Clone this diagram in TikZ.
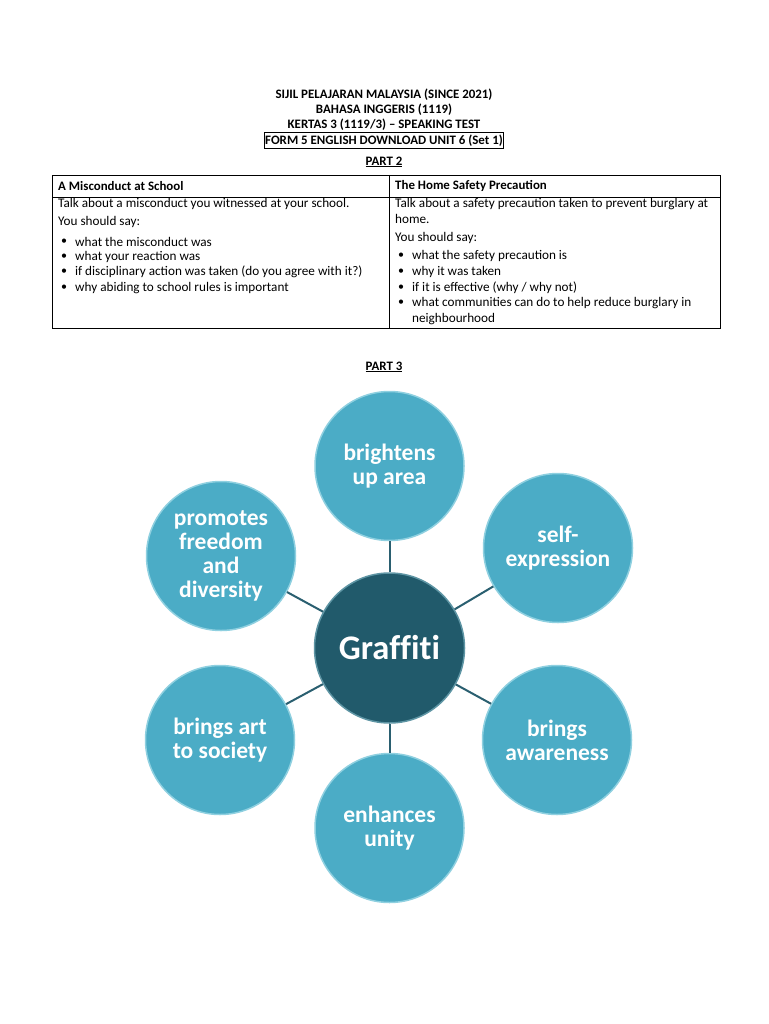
\documentclass[tikz,border=0pt]{standalone}
\usepackage{fontspec}
\setmainfont{Carlito}
\begin{document}
\begin{tikzpicture}[x=1pt,y=-1pt,
  hdr/.style={font=\fontsize{12.9}{14}\selectfont\bfseries, inner sep=0pt},
  body/.style={font=\fontsize{13.2}{15}\selectfont, inner sep=0pt, anchor=west},
  bul/.style={font=\fontsize{12}{15}\selectfont, inner sep=0pt},
  outer/.style={circle, minimum size=149pt, inner sep=0pt, align=center,
     fill=cyanmain, draw=cyanedge, line width=1.5pt, text=white,
     font=\fontsize{23.5}{24}\selectfont\bfseries},
  center/.style={circle, minimum size=150pt, inner sep=0pt, align=center,
     fill=tealdark, draw=tealedge, line width=1.5pt, text=white,
     font=\fontsize{34.5}{38}\selectfont\bfseries\addfontfeatures{Ligatures=NoCommon}},
  conn/.style={draw=linecol, line width=2pt}]
\definecolor{cyanmain}{HTML}{4BACC6}
\definecolor{cyanedge}{HTML}{8FD0E0}
\definecolor{tealdark}{HTML}{215A6B}
\definecolor{tealedge}{HTML}{5E95A4}
\definecolor{linecol}{HTML}{2A5F70}
\useasboundingbox (0,0) rectangle (768,1024);
\fill[white] (0,0) rectangle (768,1024);
% header
\node[hdr] (h1) at (384,95) {SIJIL PELAJARAN MALAYSIA (SINCE 2021)};
\node[hdr] (h2) at (384,110) {BAHASA INGGERIS (1119)};
\node[hdr] (h3) at (384,125) {KERTAS 3 (1119/3) – SPEAKING TEST};
\node[hdr, draw, line width=0.8pt, inner xsep=1pt, inner ysep=2pt] (h4) at (384,140.5) {FORM 5 ENGLISH DOWNLOAD UNIT 6 (Set 1)};
\node[hdr] (p2) at (384,162) {\underline{PART 2}};
% table
\draw[line width=0.8pt] (52,175) rectangle (720,328);
\draw[line width=0.8pt] (52,197) -- (720,197);
\draw[line width=0.8pt] (389,175) -- (389,328);
\node[hdr, anchor=west] (t1) at (58,186) {A Misconduct at School};
\node[hdr, anchor=west] (t2) at (395,186) {The Home Safety Precaution};
\node[body] (l1) at (58,204) {Talk about a misconduct you witnessed at your school.};
\node[body] (l2) at (58,222) {You should say:};
\node[bul] (lb1) at (64,242) {•};
\node[body] (lt1) at (75,242) {what the misconduct was};
\node[bul] (lb2) at (64,257) {•};
\node[body] (lt2) at (75,257) {what your reaction was};
\node[bul] (lb3) at (64,272) {•};
\node[body] (lt3) at (75,272) {if disciplinary action was taken (do you agree with it?)};
\node[bul] (lb4) at (64,288) {•};
\node[body] (lt4) at (75,288) {why abiding to school rules is important};
\node[body] (r1) at (395,204) {Talk about a safety precaution taken to prevent burglary at};
\node[body] (r1b) at (395,219) {home.};
\node[body] (r2) at (395,238) {You should say:};
\node[bul] (rb1) at (401,256) {•};
\node[body] (rt1) at (412,256) {what the safety precaution is};
\node[bul] (rb2) at (401,272) {•};
\node[body] (rt2) at (412,272) {why it was taken};
\node[bul] (rb3) at (401,288) {•};
\node[body] (rt3) at (412,288) {if it is effective (why / why not)};
\node[bul] (rb4) at (401,303) {•};
\node[body] (rt4) at (412,303) {what communities can do to help reduce burglary in};
\node[body] (rt5) at (412,319) {neighbourhood};
\node[hdr] (p3) at (384,367) {\underline{PART 3}};
% diagram
\node[center] (c) at (389.5,648) {Graffiti};
\node[outer] (n1) at (389.5,466) {brightens\\up area};
\node[outer] (n2) at (558,548) {self-\\expression};
\node[outer] (n3) at (557,740) {brings\\awareness};
\node[outer] (n4) at (389.5,828) {enhances\\unity};
\node[outer] (n5) at (220,740) {brings art\\to society};
\node[outer] (n6) at (221,556) {promotes\\freedom\\and\\diversity};
\foreach \n in {n1,n2,n3,n4,n5,n6} \draw[conn] (c) -- (\n);
\end{tikzpicture}
\end{document}
